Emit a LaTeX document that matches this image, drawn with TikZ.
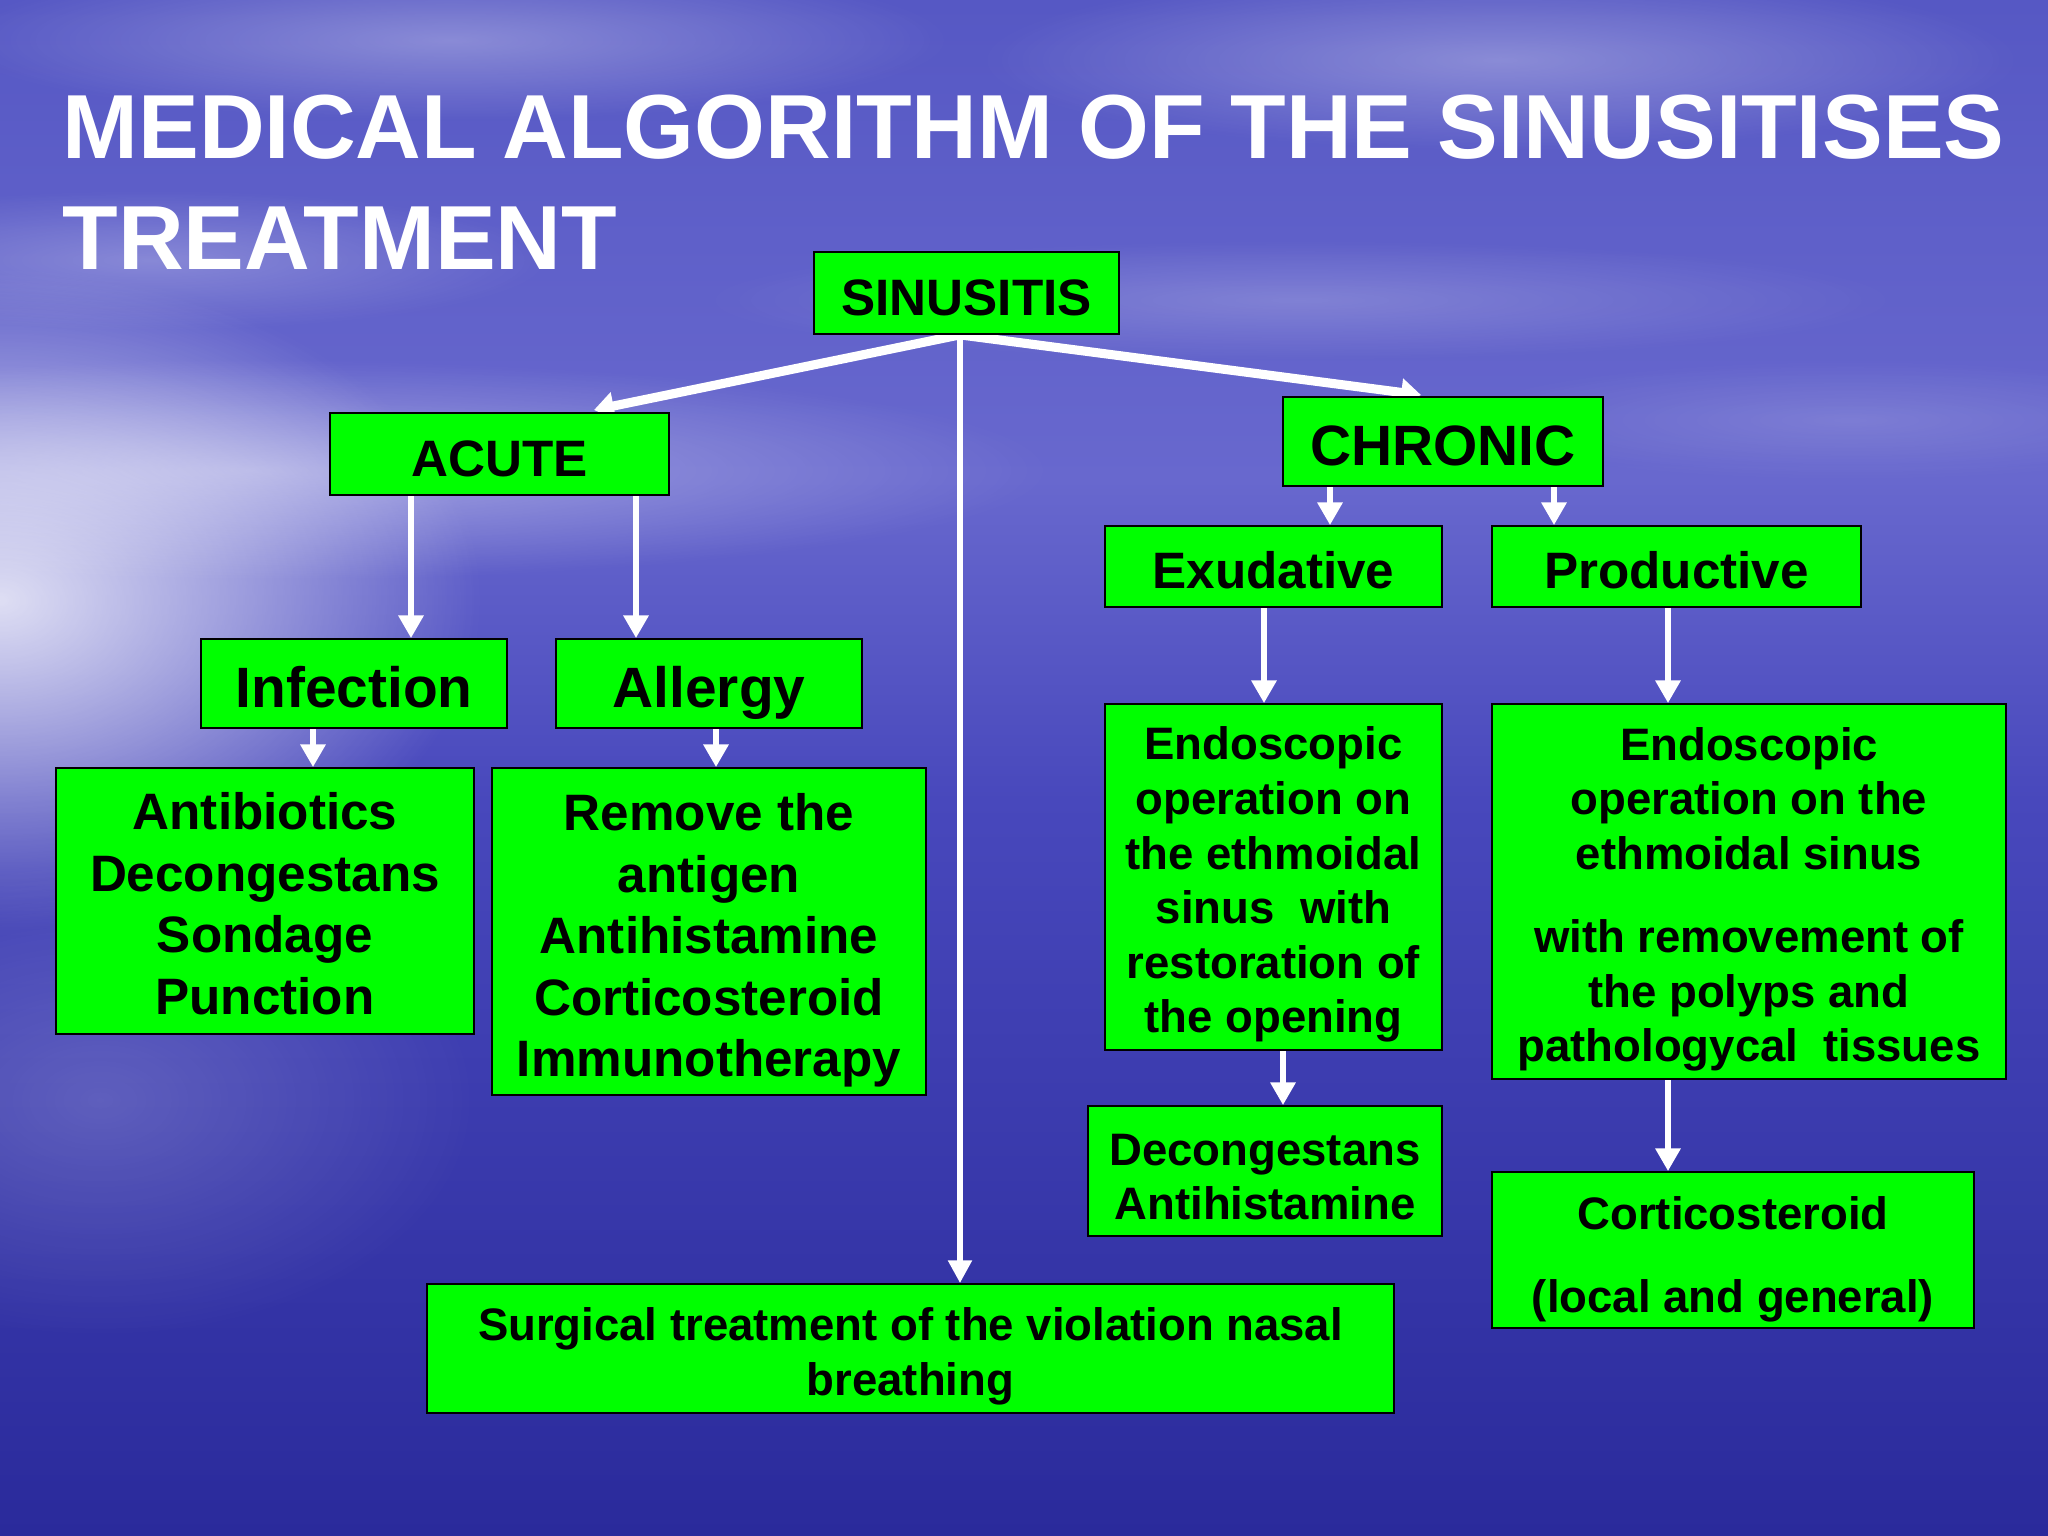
\documentclass[tikz,border=0pt]{standalone}
\usepackage{fontspec}
\setmainfont{Liberation Sans}
\usetikzlibrary{arrows.meta,fadings}
\definecolor{boxgreen}{RGB}{0,255,0}
\definecolor{skyA}{RGB}{86,88,196}
\definecolor{skyB}{RGB}{104,104,206}
\definecolor{skyC}{RGB}{72,72,188}
\definecolor{skyD}{RGB}{42,42,155}
\tikzfading[name=glow,inner color=transparent!0,outer color=transparent!100]
\pgfdeclarelayer{bg}
\pgfdeclarelayer{conn}
\pgfsetlayers{bg,conn,main}
\newcommand\tp[1]{\rule{0pt}{#1}}
\begin{document}
\begin{tikzpicture}[x=0.3515625pt,y=-0.3515625pt,
  box/.style={draw=black,line width=0.6pt,fill=boxgreen,inner sep=0pt,align=center,text=black},
  sz/.style 2 args={minimum width=#1*0.3515625pt,minimum height=#2*0.3515625pt},
  fA/.style={font=\bfseries\fontsize{20}{24}\selectfont},
  fB/.style={font=\bfseries\fontsize{18}{21.6}\selectfont},
  fC/.style={font=\bfseries\fontsize{16}{19.2}\selectfont},
  oneA/.style={fA,text height=17.1pt,text depth=0pt},
  oneB/.style={fB,text height=15.7pt,text depth=0pt},
  ttl/.style={anchor=base west,text=white,inner sep=0pt,font=\bfseries\fontsize{32}{38.4}\selectfont},
  arr/.style={draw=white,line width=2.4pt,-{Triangle[width=8.5pt,length=8pt]}},
  arrd/.style={draw=white,line width=3.2pt,-{Triangle[width=9.5pt,length=7pt]}},
  thin/.style={draw=white,line width=2.2pt,-{Triangle[width=8pt,length=8pt]}}]
\useasboundingbox (0,0) rectangle (2048,1536);
\begin{pgfonlayer}{bg}
  \shade[top color=skyA,bottom color=skyB] (0,0) rectangle (2048,480);
  \shade[top color=skyB,bottom color=skyC] (0,480) rectangle (2048,800);
  \shade[top color=skyC,bottom color=skyD] (0,800) rectangle (2048,1536);
  \fill[white,opacity=0.8,path fading=glow] (0,600) ellipse [x radius=480,y radius=330];
  \fill[white,opacity=0.4,path fading=glow] (250,470) ellipse [x radius=800,y radius=110];
  \fill[white,opacity=0.3,path fading=glow] (1500,60) ellipse [x radius=520,y radius=90];
  \fill[white,opacity=0.3,path fading=glow] (450,40) ellipse [x radius=500,y radius=80];
  \fill[white,opacity=0.25,path fading=glow] (150,260) ellipse [x radius=400,y radius=70];
  \fill[white,opacity=0.2,path fading=glow] (1300,300) ellipse [x radius=600,y radius=60];
  \fill[white,opacity=0.15,path fading=glow] (1850,420) ellipse [x radius=400,y radius=60];
  \fill[white,opacity=0.18,path fading=glow] (100,1100) ellipse [x radius=380,y radius=240];
\end{pgfonlayer}
% title
\node[ttl] (title1) at (62,159) {MEDICAL ALGORITHM OF THE SINUSITISES};
\node[ttl] (title2) at (62,270) {TREATMENT};
% boxes
\node[box,oneB,sz={305}{82}] (sin) at (966.5,293) {SINUSITIS};
\node[box,oneB,sz={339}{82}] (acute) at (499.5,454) {ACUTE};
\node[box,oneA,sz={320}{89}] (chronic) at (1443,441.5) {CHRONIC};
\node[box,oneA,sz={306}{89}] (inf) at (354,683.5) {Infection};
\node[box,oneA,sz={306}{89}] (all) at (709,683.5) {Allergy};
\node[box,fB,sz={418}{266}] (anti) at (265,901) {\tp{15pt}Antibiotics\\Decongestans\\Sondage\\Punction};
\node[box,fB,sz={434}{327}] (remove) at (709,931.5) {\tp{19.3pt}Remove the\\antigen\\Antihistamine\\Corticosteroid\\Immunotherapy};
\node[box,oneB,sz={337}{81}] (exud) at (1273.5,566.5) {Exudative};
\node[box,oneB,sz={369}{81}] (prod) at (1676.5,566.5) {Productive};
\node[box,fC,sz={337}{346}] (endoL) at (1273.5,877) {\tp{17pt}Endoscopic\\operation on\\the ethmoidal\\sinus\ \ with\\restoration of\\the opening};
\node[box,fC,sz={514}{375}] (endoR) at (1749,891.5) {\tp{17pt}Endoscopic\\operation on the\\ethmoidal sinus\\[10pt]with removement of\\the polyps and\\pathologycal\ \ tissues};
\node[box,fC,sz={354}{130}] (decong) at (1265,1171) {\tp{15.2pt}Decongestans\\Antihistamine};
\node[box,fC,sz={482}{156}] (cort) at (1733,1250) {\tp{17.9pt}Corticosteroid\\[10pt](local and general)};
\node[box,fC,sz={967}{129}] (surg) at (910.5,1348.5) {\tp{17pt}Surgical treatment of the violation nasal\\breathing};
% connector x positions
\coordinate (xa) at (411,0);
\coordinate (xb) at (636,0);
\coordinate (xc) at (313,0);
\coordinate (xd) at (716,0);
\coordinate (xe) at (1330,0);
\coordinate (xf) at (1554,0);
\coordinate (xg) at (1264,0);
\coordinate (xh) at (1668,0);
\coordinate (xi) at (1283,0);
\coordinate (ta) at (594,410);
\coordinate (tc) at (1421,395);
\coordinate (xs) at (960,0);
\begin{pgfonlayer}{conn}
  \draw[arrd] (sin.south -| xs) -- (ta);
  \draw[arrd] (sin.south -| xs) -- (tc);
  \draw[thin] (sin.south -| xs) -- (surg.north -| xs);
  \draw[arr] (acute.south -| xa) -- (inf.north -| xa);
  \draw[arr] (acute.south -| xb) -- (all.north -| xb);
  \draw[arr] (inf.south -| xc) -- (anti.north -| xc);
  \draw[arr] (all.south -| xd) -- (remove.north -| xd);
  \draw[arr] (chronic.south -| xe) -- (exud.north -| xe);
  \draw[arr] (chronic.south -| xf) -- (prod.north -| xf);
  \draw[arr] (exud.south -| xg) -- (endoL.north -| xg);
  \draw[arr] (prod.south -| xh) -- (endoR.north -| xh);
  \draw[arr] (endoL.south -| xi) -- (decong.north -| xi);
  \draw[arr] (endoR.south -| xh) -- (cort.north -| xh);
\end{pgfonlayer}
\end{tikzpicture}
\end{document}
